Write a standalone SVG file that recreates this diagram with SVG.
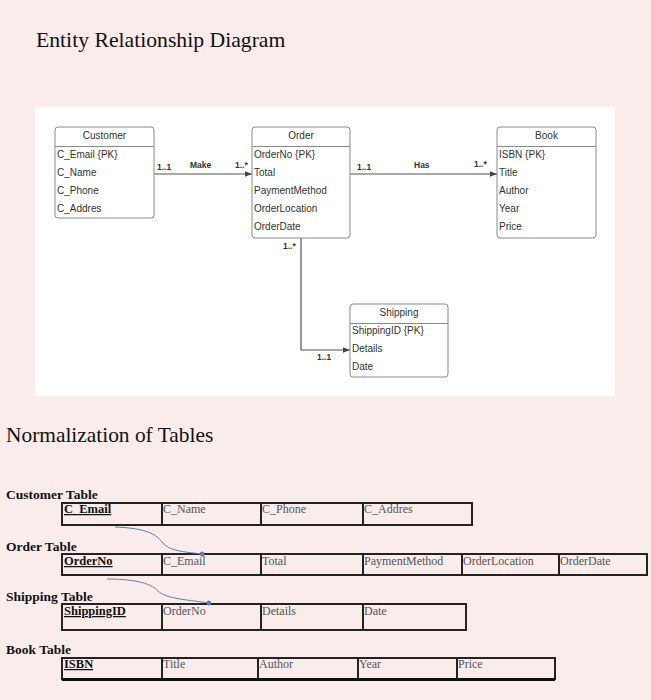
<svg xmlns="http://www.w3.org/2000/svg" width="651" height="700" viewBox="0 0 651 700">
<defs>
<style>
.ent{fill:#fff;stroke:#8a8a8a;stroke-width:1}
.sep{stroke:#8a8a8a;stroke-width:1}
.hd{font-family:"Liberation Sans",Arial,sans-serif;font-size:10px;fill:#333;text-anchor:middle}
.at{font-family:"Liberation Sans",Arial,sans-serif;font-size:10px;fill:#333}
.lb{font-family:"Liberation Sans",Arial,sans-serif;font-size:8.5px;font-weight:bold;fill:#333}
.con{fill:none;stroke:#555;stroke-width:1.2}
.ttl{font-family:"Liberation Serif",serif;font-size:21.7px;fill:#111}
.tl{font-family:"Liberation Serif",serif;font-size:13.5px;font-weight:bold;fill:#111}
.cell{fill:none;stroke:#222;stroke-width:2}
.ct{font-family:"Liberation Serif",serif;font-size:12px;fill:#555}
.pk{font-family:"Liberation Serif",serif;font-size:12.5px;font-weight:bold;fill:#111;text-decoration:underline}
.fk{fill:none;stroke:#5a7db3;stroke-width:1}
</style>
<marker id="ah" viewBox="0 0 10 10" refX="10" refY="5" markerWidth="7" markerHeight="7" orient="auto" markerUnits="userSpaceOnUse">
<path d="M0,1 L10,5 L0,9 z" fill="#444"/>
</marker>
<marker id="bh" viewBox="0 0 10 10" refX="5" refY="5" markerWidth="6" markerHeight="6" orient="auto" markerUnits="userSpaceOnUse">
<circle cx="5" cy="5" r="4" fill="#5a7db3"/>
</marker>
</defs>
<rect x="0" y="0" width="651" height="700" fill="#f9eceb"/>
<text class="ttl" x="36" y="47">Entity Relationship Diagram</text>
<rect x="35" y="107" width="580" height="289" fill="#fff"/>

<g id="connectors">
<line class="con" x1="154" y1="174" x2="252" y2="174" marker-end="url(#ah)"/>
<text class="lb" x="157" y="170">1..1</text>
<text class="lb" x="190" y="168">Make</text>
<text class="lb" x="235" y="168">1..*</text>
<line class="con" x1="350" y1="174" x2="497" y2="174" marker-end="url(#ah)"/>
<text class="lb" x="357" y="170">1..1</text>
<text class="lb" x="414" y="168">Has</text>
<text class="lb" x="474" y="167">1..*</text>
<path class="con" d="M301,238 L301,350 L350,350" marker-end="url(#ah)"/>
<text class="lb" x="283" y="249">1..*</text>
<text class="lb" x="317" y="360">1..1</text>
</g>

<g id="customer">
<rect class="ent" x="55" y="127" width="99" height="91" rx="3"/>
<line class="sep" x1="55" y1="146.5" x2="154" y2="146.5"/>
<text class="hd" x="104.5" y="139">Customer</text>
<text class="at" x="57" y="158">C_Email {PK}</text>
<text class="at" x="57" y="176">C_Name</text>
<text class="at" x="57" y="194">C_Phone</text>
<text class="at" x="57" y="212">C_Addres</text>
</g>

<g id="order">
<rect class="ent" x="252" y="127" width="98" height="111" rx="3"/>
<line class="sep" x1="252" y1="146.5" x2="350" y2="146.5"/>
<text class="hd" x="301" y="139">Order</text>
<text class="at" x="254" y="158">OrderNo {PK}</text>
<text class="at" x="254" y="176">Total</text>
<text class="at" x="254" y="194">PaymentMethod</text>
<text class="at" x="254" y="212">OrderLocation</text>
<text class="at" x="254" y="230">OrderDate</text>
</g>

<g id="book">
<rect class="ent" x="497" y="127" width="99" height="111" rx="3"/>
<line class="sep" x1="497" y1="146.5" x2="596" y2="146.5"/>
<text class="hd" x="546.5" y="139">Book</text>
<text class="at" x="499" y="158">ISBN {PK}</text>
<text class="at" x="499" y="176">Title</text>
<text class="at" x="499" y="194">Author</text>
<text class="at" x="499" y="212">Year</text>
<text class="at" x="499" y="230">Price</text>
</g>

<g id="shipping">
<rect class="ent" x="350" y="304" width="98" height="73" rx="3"/>
<line class="sep" x1="350" y1="323.5" x2="448" y2="323.5"/>
<text class="hd" x="399" y="316">Shipping</text>
<text class="at" x="352" y="334">ShippingID {PK}</text>
<text class="at" x="352" y="352">Details</text>
<text class="at" x="352" y="370">Date</text>
</g>

<text class="ttl" x="6" y="442" style="font-size:21.4px">Normalization of Tables</text>

<g id="customer-table">
<text class="tl" x="6" y="499">Customer Table</text>
<rect class="cell" x="62" y="503" width="410" height="22"/>
<line class="cell" x1="162" y1="503" x2="162" y2="525"/>
<line class="cell" x1="261" y1="503" x2="261" y2="525"/>
<line class="cell" x1="363" y1="503" x2="363" y2="525"/>
<text class="pk" x="64" y="513">C_Email</text>
<text class="ct" x="163" y="513">C_Name</text>
<text class="ct" x="262" y="513">C_Phone</text>
<text class="ct" x="364" y="513">C_Addres</text>
</g>

<g id="order-table">
<text class="tl" x="6" y="551">Order Table</text>
<rect class="cell" x="62" y="554" width="585" height="21"/>
<line class="cell" x1="162" y1="554" x2="162" y2="575"/>
<line class="cell" x1="261" y1="554" x2="261" y2="575"/>
<line class="cell" x1="363" y1="554" x2="363" y2="575"/>
<line class="cell" x1="462" y1="554" x2="462" y2="575"/>
<line class="cell" x1="559" y1="554" x2="559" y2="575"/>
<text class="pk" x="64" y="565">OrderNo</text>
<text class="ct" x="163" y="565">C_Email</text>
<text class="ct" x="262" y="565">Total</text>
<text class="ct" x="364" y="565">PaymentMethod</text>
<text class="ct" x="463" y="565">OrderLocation</text>
<text class="ct" x="560" y="565">OrderDate</text>
</g>

<g id="shipping-table">
<text class="tl" x="6" y="601">Shipping Table</text>
<rect class="cell" x="62" y="604" width="404" height="26"/>
<line class="cell" x1="162" y1="604" x2="162" y2="630"/>
<line class="cell" x1="261" y1="604" x2="261" y2="630"/>
<line class="cell" x1="363" y1="604" x2="363" y2="630"/>
<text class="pk" x="64" y="615">ShippingID</text>
<text class="ct" x="163" y="615">OrderNo</text>
<text class="ct" x="262" y="615">Details</text>
<text class="ct" x="364" y="615">Date</text>
</g>

<g id="book-table">
<text class="tl" x="6" y="654">Book Table</text>
<rect class="cell" x="62" y="658" width="493" height="21"/>
<line x1="62" y1="679.5" x2="555" y2="679.5" stroke="#111" stroke-width="3"/>
<line class="cell" x1="162" y1="658" x2="162" y2="679"/>
<line class="cell" x1="258" y1="658" x2="258" y2="679"/>
<line class="cell" x1="358" y1="658" x2="358" y2="679"/>
<line class="cell" x1="457" y1="658" x2="457" y2="679"/>
<text class="pk" x="64" y="668">ISBN</text>
<text class="ct" x="163" y="668">Title</text>
<text class="ct" x="259" y="668">Author</text>
<text class="ct" x="359" y="668">Year</text>
<text class="ct" x="458" y="668">Price</text>
</g>

<g id="fk-links">
<path class="fk" d="M115,527 C140,528 155,532 162,542 C168,551 185,552 202,554" marker-end="url(#bh)"/>
<path class="fk" d="M107,579 C130,579 150,582 158,591 C166,599 190,600 209,603" marker-end="url(#bh)"/>
</g>
</svg>
